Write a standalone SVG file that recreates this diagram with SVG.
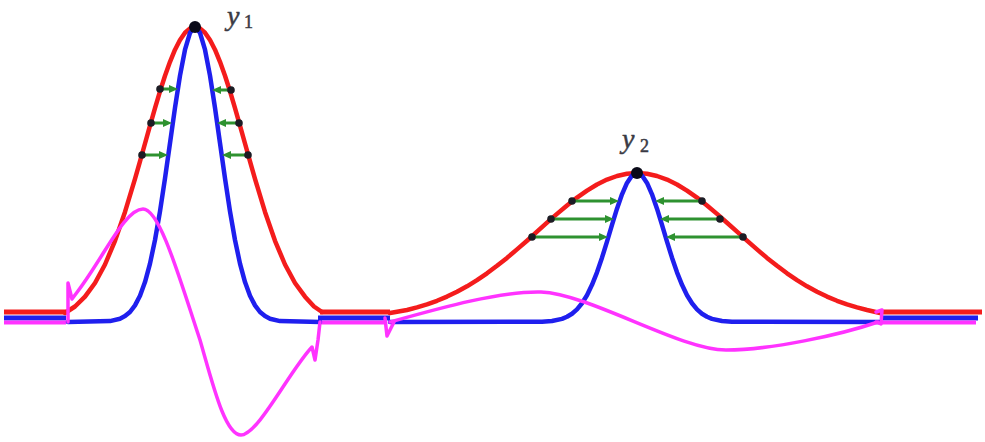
<svg xmlns="http://www.w3.org/2000/svg" width="985" height="442" viewBox="0 0 985 442">
<defs>
<style>
.red{fill:none;stroke:#f41c1c;stroke-width:4.5;stroke-linejoin:round;stroke-linecap:round}
.blue{fill:none;stroke:#1f1fee;stroke-width:4.5;stroke-linejoin:round;stroke-linecap:round}
.mag{fill:none;stroke:#ff33ff;stroke-width:3.5;stroke-linejoin:round;stroke-linecap:round}
.band{stroke-linecap:butt;stroke-width:5}
.arr{fill:none;stroke:#2e9230;stroke-width:3;marker-end:url(#ah)}
.dot{fill:#1c1c24}
.pk{fill:#0a0a18}
.lbl{font-family:"Liberation Serif",serif;fill:#3a3a44;stroke:#3a3a44;stroke-width:0.5}
</style>
<marker id="ah" markerUnits="userSpaceOnUse" markerWidth="10" markerHeight="9" refX="2" refY="4" orient="auto">
<path d="M0,0 L9,4 L0,8 z" fill="#2e9230"/>
</marker>
</defs>
<rect width="985" height="442" fill="#ffffff"/>
<g id="baselines">
<line class="red band" x1="4" y1="312" x2="66" y2="312"/>
<line class="blue band" x1="4" y1="318" x2="66" y2="318"/>
<line class="mag band" style="stroke-width:4" x1="4" y1="322.5" x2="66" y2="322.5"/>
<line class="red band" x1="320" y1="312" x2="390" y2="312"/>
<line class="blue band" x1="318" y1="318" x2="390" y2="318"/>
<line class="mag band" style="stroke-width:4" x1="320" y1="322.5" x2="386" y2="322.5"/>
<line class="red band" x1="880" y1="312" x2="982" y2="312"/>
<line class="blue band" x1="880" y1="318" x2="978" y2="318"/>
<line class="mag band" style="stroke-width:4" x1="880" y1="322.5" x2="976" y2="322.5"/>
</g>
<g id="red-curves">
<polyline class="red" points="65,313 75,306.5 85,296.7 95,283.0 105,264.5 115,240.8 125,211.9 135,178.9 140,161.4 145,143.5 150,125.6 155,108.1 160,91.3 165,75.7 170,61.8 175,49.7 180,40.0 185,32.8 190,28.4 195,27 200,28.4 205,32.8 210,40.0 215,49.7 220,61.8 225,75.7 230,91.3 235,108.1 240,125.6 245,143.5 250,161.4 255,178.9 265,211.9 275,240.8 285,264.5 295,283.0 305,296.7 314,306.5 322,312"/>
<polyline class="red" points="390,313 407,310.0 417,307.4 427,304.4 437,300.8 447,296.6 457,291.7 467,286.3 477,280.1 487,273.3 497,265.8 507,257.9 517,249.4 527,240.7 537,231.7 547,222.7 557,213.9 567,205.5 577,197.6 587,190.6 597,184.5 607,179.6 617,176.0 627,173.75 637,173 647,173.75 657,176.0 667,179.6 677,184.5 687,190.6 697,197.6 707,205.5 717,213.9 727,222.7 737,231.7 747,240.7 757,249.4 767,257.9 777,265.8 787,273.3 797,280.1 807,286.3 817,291.7 827,296.6 837,300.8 847,304.4 857,307.4 867,310.0 880,313"/>
</g>
<g id="blue-curves">
<polyline class="blue" points="68,322 110,321.1 120,318.7 125,316.1 130,312.0 135,305.4 140,295.8 145,282.1 150,263.6 155,240.0 160,211.3 165,178.4 170,143.1 175,107.8 180,75.6 185,49.7 190,32.8 195,27 200,32.8 205,49.7 210,75.6 215,107.8 220,143.1 225,178.4 230,211.3 235,240.0 240,263.6 245,282.1 250,295.8 255,305.4 260,312.0 265,316.1 270,318.7 280,321.1 320,322"/>
<polyline class="blue" points="390,322 542,321.7 552,321.0 562,318.9 567,316.8 572,313.8 577,309.4 582,303.3 587,295.2 592,284.8 597,272.3 602,257.7 607,241.6 612,224.9 617,208.7 622,194.3 627,182.9 632,175.5 637,173 642,175.5 647,182.9 652,194.3 657,208.7 662,224.9 667,241.6 672,257.7 677,272.3 682,284.8 687,295.2 692,303.3 697,309.4 702,313.8 707,316.8 712,318.9 722,321.0 732,321.7 880,322"/>
</g>
<g id="magenta-curves">
<path class="mag" d="M68,322 L68,283 L72,299 L78,291 C105,255 125,209 143,209 C160,209 180,280 200,340 C213,385 225,435 241,435 C258,435 290,370 312,347 L315,360 L318,340 L320,322"/>
<path class="mag" d="M385,318 L387,336 L394,322"/>
<path class="mag" d="M390,322 C440,308 500,291 541,292 C590,294 680,350 726,350 C770,350 840,335 878,322"/>
<path class="mag" d="M876,312 L882,310 L881,324 L876,322"/>
</g>
<g id="arrows">
<line class="arr" x1="160" y1="89" x2="171" y2="89"/>
<line class="arr" x1="151" y1="123" x2="165" y2="123"/>
<line class="arr" x1="142" y1="155" x2="161" y2="155"/>
<line class="arr" x1="231" y1="90" x2="219" y2="90"/>
<line class="arr" x1="239" y1="123" x2="224" y2="123"/>
<line class="arr" x1="248" y1="155" x2="229" y2="155"/>
<line class="arr" x1="572" y1="201" x2="612" y2="201"/>
<line class="arr" x1="551" y1="219" x2="607" y2="219"/>
<line class="arr" x1="532" y1="237" x2="601" y2="237"/>
<line class="arr" x1="702" y1="201" x2="662" y2="201"/>
<line class="arr" x1="720" y1="219" x2="667" y2="219"/>
<line class="arr" x1="743" y1="237" x2="673" y2="237"/>
</g>
<g id="dots">
<circle class="dot" cx="160" cy="89" r="3.8"/>
<circle class="dot" cx="151" cy="123" r="3.8"/>
<circle class="dot" cx="142" cy="155" r="3.8"/>
<circle class="dot" cx="231" cy="90" r="3.8"/>
<circle class="dot" cx="239" cy="123" r="3.8"/>
<circle class="dot" cx="248" cy="155" r="3.8"/>
<circle class="dot" cx="572" cy="201" r="3.8"/>
<circle class="dot" cx="551" cy="219" r="3.8"/>
<circle class="dot" cx="532" cy="237" r="3.8"/>
<circle class="dot" cx="702" cy="201" r="3.8"/>
<circle class="dot" cx="720" cy="219" r="3.8"/>
<circle class="dot" cx="743" cy="237" r="3.8"/>
</g>
<g id="peak-y1">
<circle class="pk" cx="195" cy="27" r="6"/>
<text class="lbl" x="227" y="25" font-size="28" font-style="italic">y</text>
<text class="lbl" x="244" y="28" font-size="18">1</text>
</g>
<g id="peak-y2">
<circle class="pk" cx="637" cy="173" r="6"/>
<text class="lbl" x="622" y="148" font-size="28" font-style="italic">y</text>
<text class="lbl" x="640" y="152" font-size="18">2</text>
</g>
</svg>
